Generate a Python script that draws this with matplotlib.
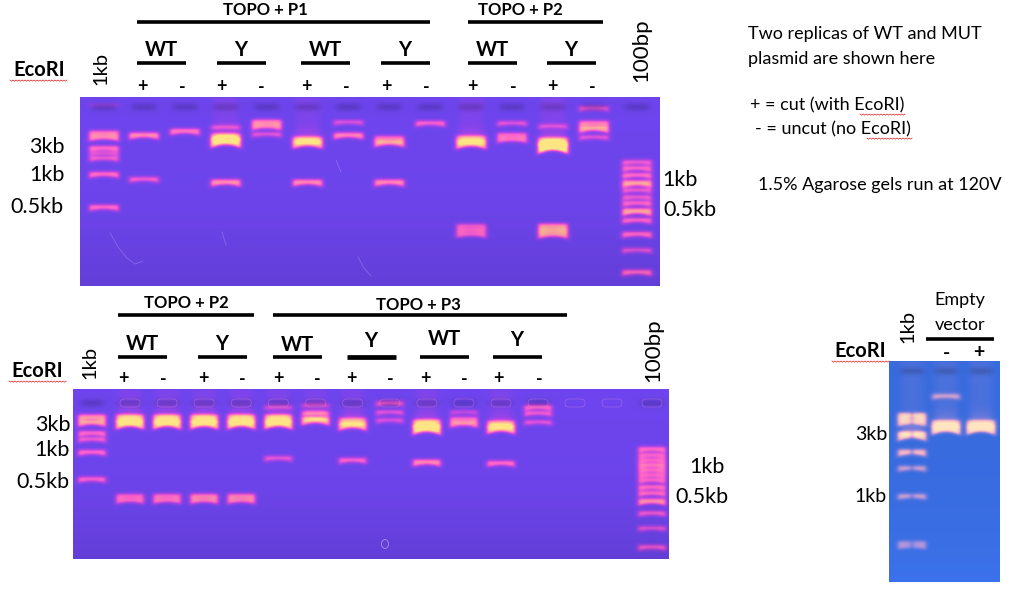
import numpy as np
import matplotlib
matplotlib.use("Agg")
import matplotlib.pyplot as plt
from matplotlib.colors import LinearSegmentedColormap
from matplotlib.patches import FancyBboxPatch, Ellipse

plt.rcParams['font.family'] = ['Lato', 'DejaVu Sans']

# band positions are read off the picture, as pixel rows of the image
# each band: (row, strength), diffuse bands are given as close rows
gel1_ladder_left = [(105, 0.2), (133, 0.65), (137, 0.68), (148, 0.62), (153, 0.5), (158, 0.55), (174, 0.62), (207, 0.62)]
gel1_ladder_right = [(162, 0.55), (168, 0.6), (175, 0.62), (183, 0.78), (190, 0.55), (197, 0.55), (203, 0.6),
                     (211, 0.78), (220, 0.6), (234, 0.62), (250, 0.5), (272, 0.62)]
gel1_lanes = [
    [(135, 0.7), (179, 0.55)],
    [(131, 0.65)],
    [(127, 0.42), (136, 0.72), (141, 0.98), (182, 0.72)],
    [(122, 0.68), (126, 0.68), (134, 0.5)],
    [(139, 0.68), (143, 0.85), (182, 0.7)],
    [(122, 0.48), (135, 0.68)],
    [(138, 0.6), (142, 0.78), (182, 0.7)],
    [(123, 0.58)],
    [(138, 0.65), (143, 0.9), (226, 0.55), (230, 0.58), (234, 0.58)],
    [(123, 0.5), (135, 0.6), (139, 0.62)],
    [(126, 0.42), (140, 0.72), (146, 1.1), (226, 0.7), (230, 0.75), (234, 0.72)],
    [(108, 0.5), (123, 0.65), (128, 0.78), (137, 0.5)],
]
gel2_ladder_left = [(417, 0.72), (422, 0.75), (433, 0.6), (439, 0.55), (452, 0.6), (479, 0.58)]
gel2_ladder_right = [(449, 0.62), (455, 0.6), (460, 0.6), (465, 0.65), (470, 0.62), (475, 0.6), (480, 0.6),
                     (487, 0.62), (493, 0.62), (501, 0.72), (513, 0.55), (528, 0.5), (547, 0.55)]
gel2_lanes = [
    [(417, 0.72), (423, 0.95), (496, 0.58), (500, 0.6)],
    [(417, 0.72), (423, 0.95), (496, 0.6), (500, 0.62)],
    [(417, 0.72), (423, 0.95), (496, 0.65), (500, 0.65)],
    [(417, 0.72), (423, 0.95), (496, 0.65), (500, 0.65)],
    [(407, 0.4), (417, 0.72), (423, 0.95), (458, 0.52)],
    [(405, 0.4), (413, 0.55), (420, 0.82)],
    [(420, 0.6), (425, 0.85), (460, 0.58)],
    [(403, 0.55), (412, 0.5), (420, 0.48)],
    [(422, 0.72), (428, 1.0), (462, 0.7)],
    [(412, 0.42), (419, 0.6), (423, 0.72)],
    [(423, 0.65), (428, 0.9), (463, 0.62)],
    [(407, 0.6), (413, 0.55), (422, 0.5)],
]
gel3_ladder = [(416, 0.8), (421, 0.75), (435, 0.85), (452, 0.68), (468, 0.52), (496, 0.52), (543, 0.42), (546, 0.42)]
gel3_lanes = [
    [(396, 0.5), (423, 0.72), (428, 0.95)],
    [(423, 0.72), (428, 0.95)],
]

cut_marks = ['+', '-', '+', '-', '+', '-', '+', '-', '+', '-', '+', '-']
genotypes = ['WT', 'Y', 'WT', 'Y', 'WT', 'Y']

# layout of the header marks, they do not line up exactly with the lanes
top_line_x = [137, 217, 301, 381, 468, 547]
top_mark_x = [142, 182, 221, 261, 306, 346, 386, 426, 472, 513, 552, 592]
bottom_line_x = [118, 198, 273, 347, 420, 493]
bottom_name_y = [344, 344, 345, 341, 339, 340]
bottom_mark_x = [123, 163, 203, 242, 278, 317, 351, 390, 425, 464, 498, 539]

scratches = [
    ([110, 118, 127, 135, 143], [233, 247, 258, 264, 261]),
    ([358, 364, 371], [257, 268, 276]),
    ([222, 226], [232, 245]),
    ([336, 341], [160, 172]),
]

purple_map = LinearSegmentedColormap.from_list('gel_purple', [
    (0.0, (0.43, 0.27, 0.93)), (0.3, (0.72, 0.27, 0.90)), (0.55, (1.0, 0.38, 0.80)),
    (0.78, (1.0, 0.66, 0.62)), (1.0, (1.0, 0.90, 0.52))])
blue_map = LinearSegmentedColormap.from_list('gel_blue', [
    (0.0, (0.22, 0.42, 0.87)), (0.3, (0.55, 0.52, 0.85)), (0.6, (0.92, 0.68, 0.78)),
    (1.0, (1.0, 0.90, 0.75))])


def soften(a, n=3):
    kernel = np.array([0.25, 0.5, 0.25])
    for _ in range(n):
        a = np.apply_along_axis(lambda v: np.convolve(v, kernel, mode='same'), 0, a)
        a = np.apply_along_axis(lambda v: np.convolve(v, kernel, mode='same'), 1, a)
    return a


def draw_gel(ax, box, lanes_x, lanes, half_width, cmap, well_row, fade=0.10, split_first=False):
    x0, x1, y0, y1 = box
    xx, yy = np.meshgrid(np.arange(x0, x1) + 0.5, np.arange(y0, y1) + 0.5)
    heat = np.zeros(xx.shape)
    dark = np.zeros(xx.shape)
    for k, (cx, bands) in enumerate(zip(lanes_x, lanes)):
        # lane profile, flat across the lane with soft edges
        across = 0.5 * (np.tanh((xx - cx + half_width) / 2.0) - np.tanh((xx - cx - half_width) / 2.0))
        if split_first and k == 0:
            across = across * (1 - 0.45 * np.exp(-((xx - cx) / 2.0) ** 2))
        narrow = 0.5 * (np.tanh((xx - cx + half_width - 3) / 4.0) - np.tanh((xx - cx - half_width + 3) / 4.0))
        bend = 3.5 * ((xx - cx) / half_width) ** 2
        dark += narrow * np.exp(-((yy - well_row) / 4.0) ** 2)
        for row, strength in bands:
            h = 1.3 + 2.4 * strength ** 2
            top = row - h
            bottom = row + h + bend * strength
            band = strength * across * 0.5 * (np.tanh((yy - top) / 1.2) - np.tanh((yy - bottom) / 1.2))
            heat = np.maximum(heat, band) + 0.15 * np.minimum(heat, band)
            # smear trailing above the stronger bands
            if strength > 0.8:
                smear = np.clip(1 - (row - yy) / 26.0, 0, 1) * (yy < row)
                heat += 0.30 * strength * narrow * smear ** 2
                heat += 0.07 * strength * narrow * (yy < row)
    heat = soften(heat) * 1.08
    rgb = cmap(np.clip(heat, 0, 1))[..., :3]
    # slightly darker towards the bottom of the gel
    shade = 1.0 - fade * ((yy - y0) / (y1 - y0)) ** 3
    shade = shade * (1 - 0.16 * np.clip(dark, 0, 1))
    rgb = np.clip(rgb * shade[..., None], 0, 1)
    ax.imshow(rgb, extent=(x0, x1, y1, y0), interpolation='bilinear', zorder=1, aspect='auto')


def header_line(ax, xa, xb, y, lw=2.6):
    ax.plot([xa, xb], [y, y], color='black', lw=lw, solid_capstyle='butt', zorder=3)


def squiggle(ax, xa, xb, y):
    xs = np.arange(xa, xb + 0.1, 1.5)
    ys = y + 1.2 * (np.arange(len(xs)) % 2)
    ax.plot(xs, ys, color='#e02020', lw=0.5, zorder=3)


fig = plt.figure(figsize=(10.24, 5.94), dpi=100)
ax = fig.add_axes([0, 0, 1, 1])

# gel 1
step1 = 40.9
x_top = [144 + i * step1 for i in range(12)]
draw_gel(ax, (80, 660, 97, 286), [104, 637] + x_top, [gel1_ladder_left, gel1_ladder_right] + gel1_lanes, 15, purple_map, 107)
for xs, ys in scratches:
    ax.plot(xs, ys, color='#b9a0ff', lw=0.6, alpha=0.4, zorder=2)

# gel 2
step2 = 37.1
x_bottom = [130 + i * step2 for i in range(12)]
draw_gel(ax, (73, 669, 389, 559), [92, 652] + x_bottom, [gel2_ladder_left, gel2_ladder_right] + gel2_lanes, 14, purple_map, 403)
for xw in x_bottom + [575, 612, 652]:
    ax.add_patch(FancyBboxPatch((xw - 10, 399), 20, 8, boxstyle='round,pad=0,rounding_size=4', fc='none',
                                ec='#d98fe0', lw=0.6, alpha=0.35, zorder=2))
ax.add_patch(Ellipse((385, 544), 7, 9, fc='none', ec='#a98cf0', lw=0.6, zorder=2))

# gel 3
draw_gel(ax, (889, 1000, 361, 582), [912, 946, 981], [gel3_ladder] + gel3_lanes, 14, blue_map, 371, fade=-0.06, split_first=True)

ax.set_xlim(0, 1024)
ax.set_ylim(594, 0)
ax.axis('off')

big = 15.5
mid = 14.5

# top gel headers
ax.text(265, 10, 'TOPO + P1', ha='center', va='center', fontsize=12, fontweight='bold')
ax.text(520, 10, 'TOPO + P2', ha='center', va='center', fontsize=12, fontweight='bold')
header_line(ax, 137, 430, 22)
header_line(ax, 468, 603, 22)
for xa, name in zip(top_line_x, genotypes):
    header_line(ax, xa, xa + 49, 63)
    ax.text(xa + 24, 50, name, ha='center', va='center', fontsize=14.5, fontweight='bold')
for xm, mark in zip(top_mark_x, cut_marks):
    ax.text(xm, 87, mark, ha='center', va='center', fontsize=13, fontweight='bold')
ax.text(101, 68, '1kb', rotation=90, ha='center', va='center', fontsize=mid)
ax.text(641, 50, '100bp', rotation=90, ha='center', va='center', fontsize=16)
ax.text(39, 70, 'EcoRI', ha='center', va='center', fontsize=14.5, fontweight='bold')
squiggle(ax, 10, 68, 80)
ax.text(47, 147, '3kb', ha='center', va='center', fontsize=big)
ax.text(47, 175, '1kb', ha='center', va='center', fontsize=big)
ax.text(37, 207, '0.5kb', ha='center', va='center', fontsize=big)
ax.text(680, 180, '1kb', ha='center', va='center', fontsize=big)
ax.text(690, 210, '0.5kb', ha='center', va='center', fontsize=big)

# bottom gel headers
ax.text(186, 303, 'TOPO + P2', ha='center', va='center', fontsize=12, fontweight='bold')
ax.text(418, 305, 'TOPO + P3', ha='center', va='center', fontsize=12, fontweight='bold')
header_line(ax, 118, 254, 315)
header_line(ax, 273, 567, 315)
for i, (xa, name) in enumerate(zip(bottom_line_x, genotypes)):
    header_line(ax, xa, xa + 49, 357, lw=3.4 if i == 3 else 2.6)
    ax.text(xa + 24, bottom_name_y[i], name, ha='center', va='center', fontsize=14.5, fontweight='bold')
for xm, mark in zip(bottom_mark_x, cut_marks):
    ax.text(xm, 379, mark, ha='center', va='center', fontsize=13, fontweight='bold')
ax.text(90, 362, '1kb', rotation=90, ha='center', va='center', fontsize=mid)
ax.text(653, 350, '100bp', rotation=90, ha='center', va='center', fontsize=16)
ax.text(37, 371, 'EcoRI', ha='center', va='center', fontsize=14.5, fontweight='bold')
squiggle(ax, 9, 66, 381)
ax.text(53, 425, '3kb', ha='center', va='center', fontsize=big)
ax.text(52, 450, '1kb', ha='center', va='center', fontsize=big)
ax.text(43, 482, '0.5kb', ha='center', va='center', fontsize=big)
ax.text(707, 467, '1kb', ha='center', va='center', fontsize=big)
ax.text(702, 497, '0.5kb', ha='center', va='center', fontsize=big)

# side gel
ax.text(960, 300, 'Empty', ha='center', va='center', fontsize=13)
ax.text(960, 325, 'vector', ha='center', va='center', fontsize=13)
header_line(ax, 926, 994, 339)
ax.text(860, 351, 'EcoRI', ha='center', va='center', fontsize=14.5, fontweight='bold')
squiggle(ax, 832, 889, 361)
ax.text(946, 353, '-', ha='center', va='center', fontsize=14, fontweight='bold')
ax.text(979, 353, '+', ha='center', va='center', fontsize=14, fontweight='bold')
ax.text(908, 326, '1kb', rotation=90, ha='center', va='center', fontsize=mid)
ax.text(871, 435, '3kb', ha='center', va='center', fontsize=14)
ax.text(871, 497, '1kb', ha='center', va='center', fontsize=14)

# notes
ax.text(748, 34, 'Two replicas of WT and MUT', va='center', fontsize=13)
ax.text(748, 59, 'plasmid are shown here', va='center', fontsize=13)
ax.text(750, 105, '+ = cut (with EcoRI)', va='center', fontsize=13)
ax.text(755, 129, '- = uncut (no EcoRI)', va='center', fontsize=13)
ax.text(758, 185, '1.5% Agarose gels run at 120V', va='center', fontsize=13)
squiggle(ax, 860, 906, 114)
squiggle(ax, 867, 913, 138)

fig.savefig('out.png', dpi=100)
